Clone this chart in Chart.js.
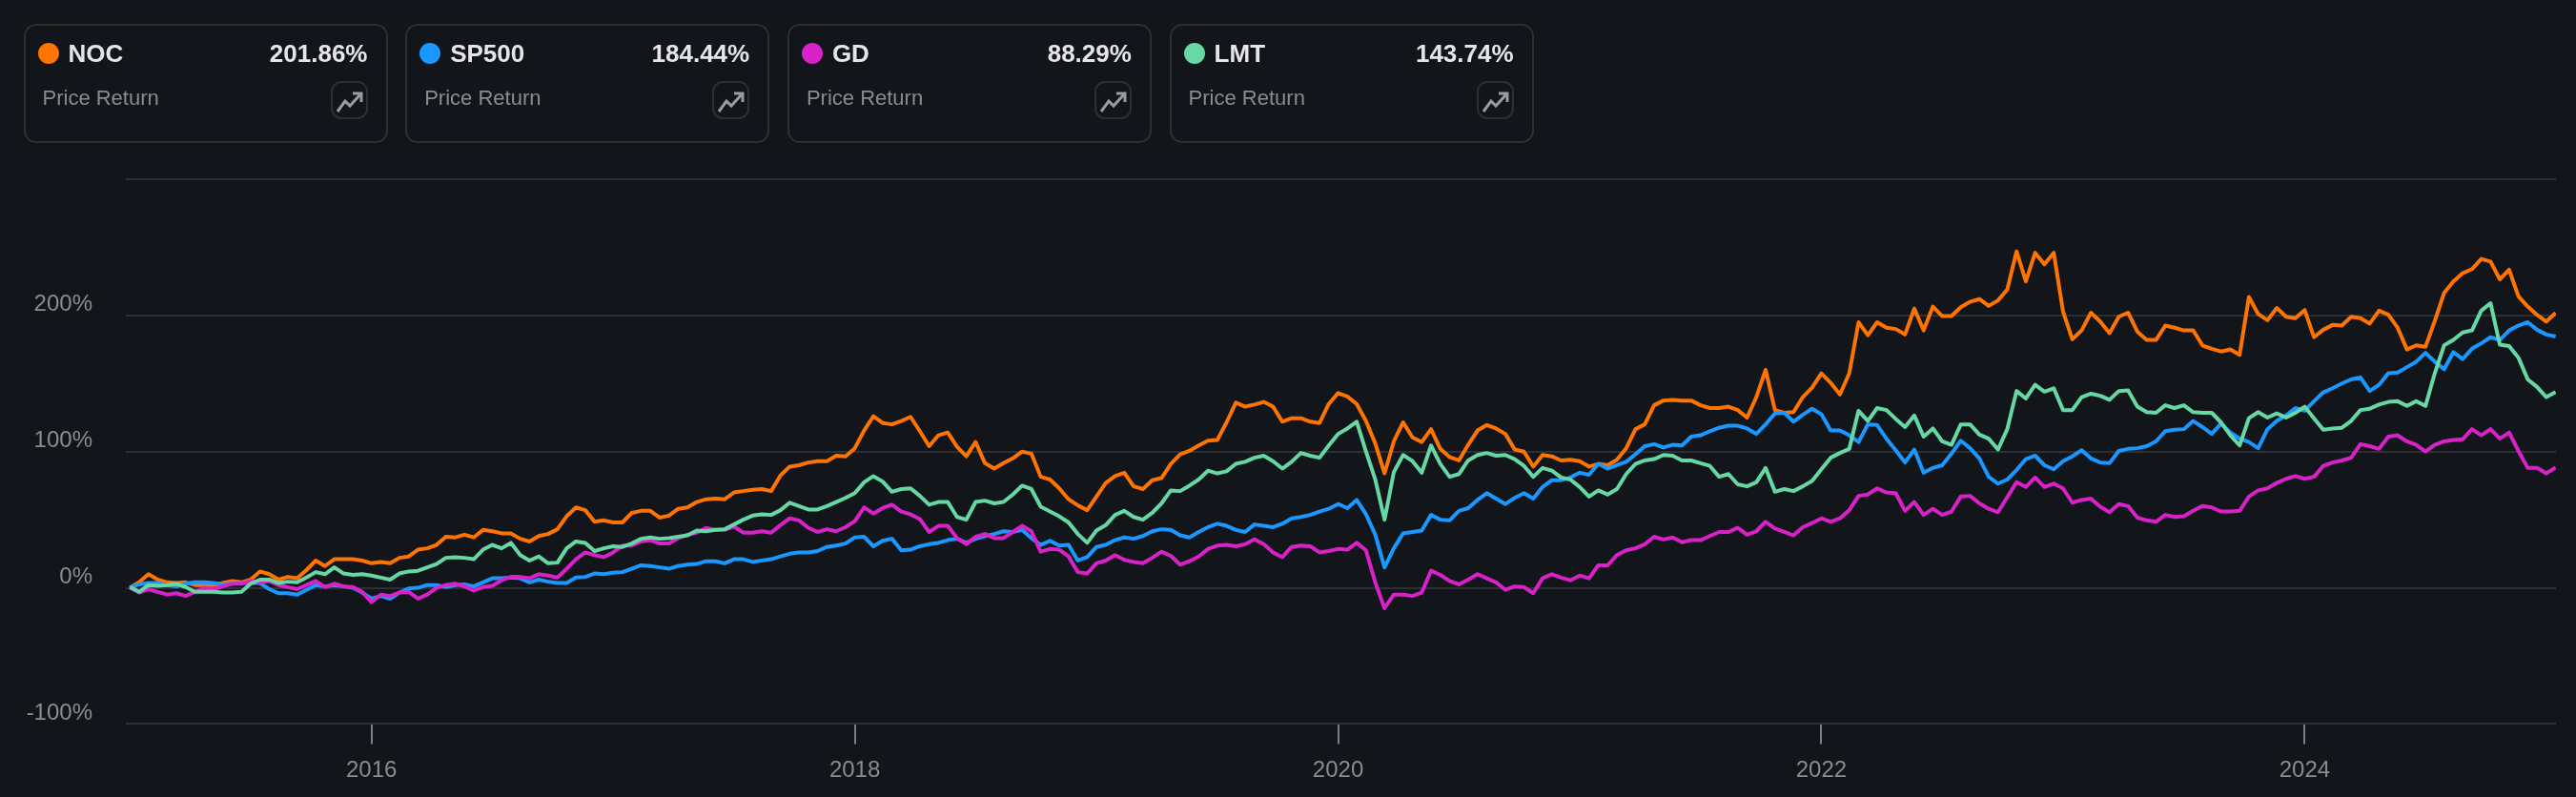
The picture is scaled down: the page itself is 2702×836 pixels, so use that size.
<!DOCTYPE html>
<html>
<head>
<meta charset="utf-8">
<title>Price Return</title>
<script src="https://cdn.jsdelivr.net/npm/chart.js@4/dist/chart.umd.min.js"></script>
<style>
html,body{margin:0;padding:0;background:#12161a;width:2702px;height:836px;overflow:hidden;font-family:"Liberation Sans",Arial,sans-serif}
#c{position:absolute;left:0;top:0}
.card{position:absolute;top:25px;width:382px;height:125px;box-sizing:border-box;border:2px solid #2c3033;border-radius:13px}
.dot{position:absolute;left:13px;top:18px;width:22px;height:22px;border-radius:50%}
.name{position:absolute;left:45px;top:14px;font-size:26px;line-height:30px;font-weight:bold;color:#e6e6e6}
.pct{position:absolute;right:19px;top:14px;font-size:26px;line-height:30px;font-weight:bold;color:#e6e6e6}
.sub{position:absolute;left:18px;top:62px;font-size:22px;line-height:28px;color:#888d90}
.btn{position:absolute;right:19px;top:58px;width:39px;height:40px;box-sizing:border-box;border:2px solid #2c3033;border-radius:11px}
.btn svg{position:absolute;left:0;top:0}
</style>
</head>
<body>
<canvas id="c" width="2702" height="836"></canvas>
<div id="cards"></div>
<script>
const tickers = ['NOC','SP500','GD','LMT'];
const lastReturns = ['201.86%','184.44%','88.29%','143.74%'];
const seriesColors = ['#ff7300','#1a98ff','#d822c7','#65d8a5'];
const cardLabel = 'Price Return';
const yTicks = [-100,0,100,200,300];
const yTickLabels = ['-100%','0%','100%','200%',''];
const xTicks = [2016,2018,2020,2022,2024];

const NOC = [
0,4,10,6,4,3.5,4,2,2,2,3.5,5,4,6,12,10,6,8,7,13,20,16,21,21,21,20,18,19,18,22,23,28,29,31.5,37.5,37,39,37,42.5,41.5,40,40,36,34,38,39.5,43,52.5,59,57,48.5,49.5,
48,48,55,56.5,56.5,51.5,53,58,59,63,65,65.5,65,70,71,72,72.5,71,82.5,89,90,92,93,93,97,96.5,102.5,115.5,126,121,120,122.5,125.5,115,104,112,114,103.5,96.5,107,91.5,87.5,91.5,95,100,98.5,81.5,79.5,73,65,60.5,57,
67,77,82,84.5,74.5,72.5,79,80.5,91,98,100.5,104.5,108,108.5,121.5,136,133,134.5,136.5,133,122,124.5,124.5,122,121,135,143,140.5,135,122.5,106,84,107.5,121.5,110.5,107,116.5,102,96,93.5,105,115.5,119.5,117,113,101.5,100,89,97.5,96.5,93.5,94,
93,
89,91,90,94,102.5,116.5,120,134,137.5,138,137.5,137.5,134,132,132,133,130.5,125,140,160,130.5,128.5,129,140,147,157.5,150.5,142,157.5,195,185.5,195,191,190,186,205,189,206.5,199.5,199.5,206,210,212,207,211,219,247,225,246,237.5,246,203,
182.5,189,202,195.5,187,199,202,188,182,182,192.5,191,189,189,178,175.5,173.5,175,171,213.5,201,196.5,205.5,199,198,204,184,189.5,193,192.5,199,198,194,203.5,200.5,191,175,178,177,196,216.5,225,231,234,241.5,239.5,226.5,233.5,214,206.5,200.5,195.5,201.86
];
const SP500 = [
0,2.5,3.5,3.5,2,1,3,4,4,3.5,2.5,3,3.5,3.5,3.5,-1,-4,-4,-5,-1.5,2,1,2,1,0,-3.5,-8,-6,-8,-3.5,-.5,0,2,2,.5,2,2.5,1,4,7,7,7.5,7,4,6,4.5,3.5,3.5,7.5,8,10.5,10,
11,11.5,14,16.5,16,15,14,16,17,17.5,19.5,19.5,18,21,21,19,20,21,23,25,26,26,27,30,31,32.5,37,37.5,30.5,34.5,36,27.5,28,30.5,32,33,35,36,33,36,38,39.5,41.5,41,42.5,36.5,31.5,34.5,31,31.5,20,22.5,
30,31.5,35,37,36,38,41.5,43,42.5,38.5,37,41,44.5,47,45.5,42.5,41,46.5,45.5,44.5,47,51,52,53.5,56,58,61.5,58.5,64.5,54,39,15,29,40,41,42,53.5,50,49.5,56.5,58.5,64.5,69.5,65.5,61.5,66,69.5,65.5,74,79,79,81,
84.5,
83,91,87.5,90,92.5,98,104,105.5,103,105,104.5,111,112,115,117.5,119,119,117,113,120,128,128.5,122,127,131.5,127.5,115.5,115.5,112,107,120,119.5,109.5,101,92,101.5,84.5,88,90,98.5,108,102.5,95,81.5,76.5,79.5,86.5,94.5,97,90,87,93,
96.5,101,95,92,91.5,100.5,102,102.5,104,107.5,115,116,116.5,122.5,118,113,120.5,114,109.5,107,102.5,116.5,122.5,126.5,132,130,137,143.5,146.5,150,153,154.5,144.5,149,157.5,158,162,166,172.5,166,160.5,173,168,175.5,179.5,184,182,189,192.5,195,189.5,186,184.44
];
const GD = [
0,-3.5,-1,-3,-5,-4,-6,-3,0,-1,1,3,3,5,4,5,2,.5,-1,2,5,.5,3,1,.5,-3,-10.5,-5,-6,-3.5,-3,-8,-5,0,2,3,1,-2,.5,1.5,5.5,8,8,7,10,9,7.5,14,21,26,24,22.5,
26,31,31,34,35,32.5,32.5,36.5,39,40.5,44,42.5,42.5,45,40.5,40.5,41.5,40.5,46,51,49.5,44,41,43,41.5,44.5,49,59,54.5,58.5,61,56,54,50.5,41,45.5,45.5,36.5,32,37.5,39.5,36.5,36.5,41,45.5,41.5,26.5,28.5,28,23,11.5,10.5,
18,20,24,20.5,19,18,22,26.5,23.5,17,19.5,23,28.5,31,31.5,30.5,32,35.5,32,26,22.5,30,31,30.5,26,27,28.5,28,33,27.5,4,-15,-5,-5,-6,-3.5,12.5,9.5,5,2.5,6,10,7,4,-1.5,1,.5,-4,7,10,7.5,5.5,
9,
7,16.5,16.5,24,27.5,29,32,37.5,35.5,37,33.5,35,35,38,41,41,44,39,41.5,48.5,43.5,41,38.5,44.5,47.5,51,48.5,51,57,67.5,68.5,73,70,69.5,56.5,63,53.5,58,53.5,56,67,67.5,62,58,55.5,66.5,77.5,74,81,74,76.5,73,
62.5,64.5,65.5,59.5,55.5,61.5,60,51.5,49.5,48.5,53.5,52,52.5,56.5,60,59,56,56,56.5,67,71.5,73,77,80,82,80,81.5,89.5,92,93.5,95.5,105.5,104,102,111,112,107.5,105,100,105,107.5,108.5,109,116.5,112,116.5,109.5,114,100.5,88,88,84,88.29
];
const LMT = [
.5,-3,2,1.5,2,3,.5,-3,-3,-3,-3.5,-3.5,-3,3,6,6,3.5,4.5,4,7.5,11.5,10,15,10.5,9.5,10,9,7.5,6,10.5,12,12.5,15,17.5,22,22.5,22,21,28,31.5,29,33,24,20,23,18,18.5,29,34,33,27,29,
30.5,30,32.5,36,37,36,36.5,37.5,38.5,42,41.5,42.5,43,46.5,50,53,54,53.5,57,62.5,60,57.5,57.5,60,63,66,69.5,77.5,82,78,70.5,72.5,73,67.5,61,63,63,52,50,63,64,62,63,68.5,75,72.5,59.5,56,52.5,48,39.5,33,
42,46,53.5,56.5,52,50,55,62,71.5,71,75,79.5,86,84,85.5,91,92.5,95.5,97,93,87.5,92.5,99,97,95.5,104.5,113,117,122,100,79.5,50,85,97.5,93,84.5,104.5,91,81.5,83.5,93.5,97.5,99,97,97.5,94.5,89.5,81.5,88,86,81,79.5,
74,
67,71.5,68.5,72.5,83.5,91,93.5,94.5,97.5,97,93.5,93.5,91.5,89.5,81.5,83.5,76,74.5,77.5,88,70.5,72.5,71,74.5,78.5,87,95.5,99,102,130,122.5,132,130.5,124,118,126.5,111,117,107.5,105,120,120,112.5,109.5,101.5,116.5,144.5,139,149,144,146.5,130.5,
130.5,140,142.5,141,138,144.5,145,133,129,128.5,134,132,134,129,128.5,128.5,121.5,112,104.5,124.5,129,125,128,125,128.5,133,124.5,116,117,117.5,122.5,130.5,131.5,134.5,136.5,137,133.5,137,133.5,157.5,178,182,187.5,189,203.5,209,178.5,177.5,169,153,147.5,140,143.74
];
const seriesValues = [NOC,SP500,GD,LMT];

// two-weekly dates as decimal years, from January 2015
const dates = NOC.map((_, i) => 2015 + i * 2 / 52);
seriesValues.forEach((s, k) => { if (s.length !== dates.length) throw new Error(tickers[k] + ' length ' + s.length + ' vs ' + dates.length); });

const TICK_GREY = '#888d90';
const cards = document.getElementById('cards');
tickers.forEach((t, i) => {
  const d = document.createElement('div');
  d.className = 'card';
  d.style.left = (24.5 + i * 400.7) + 'px';
  d.innerHTML = '<span class="dot" style="background:' + seriesColors[i] + '"></span>' +
    '<span class="name">' + t + '</span><span class="pct">' + lastReturns[i] + '</span>' +
    '<span class="sub">' + cardLabel + '</span>' +
    '<span class="btn"><svg width="35" height="36" viewBox="0 0 35 36" fill="none" stroke="#9a9da0" stroke-width="3"><path d="M5 30 L13 19 L18 24 L29 12"/><path d="M21 11 L30 11 L30 20"/></svg></span>';
  cards.appendChild(d);
});

new Chart(document.getElementById('c'), {
  type: 'line',
  data: {
    datasets: tickers.map((t, i) => ({
      label: t,
      data: dates.map((x, j) => ({x, y: seriesValues[i][j]})),
      borderColor: seriesColors[i],
      backgroundColor: seriesColors[i],
      borderWidth: 4,
      pointRadius: 0,
      tension: 0,
      fill: false,
      borderJoinStyle: 'round',
      order: 3 - i
    }))
  },
  options: {
    responsive: false,
    animation: false,
    events: [],
    layout: {padding: {left: 0, top: 188, right: 21, bottom: 0}},
    plugins: {legend: {display: false}, tooltip: {enabled: false}, title: {display: false}},
    scales: {
      x: {
        type: 'linear',
        min: 2014.9834,
        max: 2025.04,
        border: {display: false},
        grid: {drawOnChartArea: false, drawTicks: true, tickLength: 21, color: '#7b7f83', lineWidth: 2},
        ticks: {color: TICK_GREY, padding: 14, maxRotation: 0, autoSkip: false,
                font: {family: '"Liberation Sans"', size: 24, lineHeight: '28px'},
                callback: v => String(v)},
        afterBuildTicks: s => { s.ticks = xTicks.map(value => ({value})); },
        afterFit: s => { s.height = 76.6; }
      },
      y: {
        type: 'linear',
        min: -100,
        max: 300,
        border: {display: false},
        grid: {color: '#2c3034', lineWidth: 2, drawTicks: false},
        ticks: {color: TICK_GREY, padding: 35, autoSkip: false,
                font: {family: '"Liberation Sans"', size: 24, lineHeight: '22px'},
                callback: v => [yTickLabels[yTicks.indexOf(v)], '']},
        afterBuildTicks: s => { s.ticks = yTicks.map(value => ({value})); },
        afterFit: s => { s.width = 132; }
      }
    }
  }
});
</script>
</body>
</html>
